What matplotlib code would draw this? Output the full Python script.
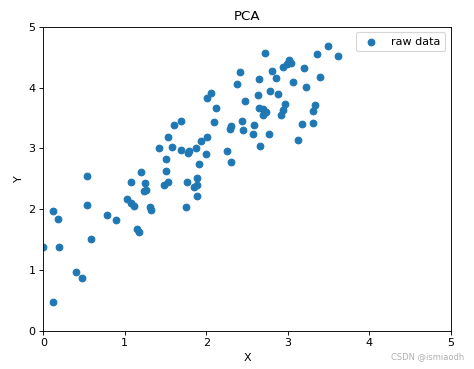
import numpy as np
import matplotlib
matplotlib.use("Agg")
import matplotlib.pyplot as plt

# punti
x_vals = [0.00, 0.12, 0.12, 0.18, 0.19, 0.40, 0.47, 0.54, 0.54, 0.59,
          0.78, 0.89, 1.03, 1.07, 1.11, 1.31, 1.32, 1.15, 1.18, 1.07,
          1.20, 1.25, 1.23, 1.26, 1.50, 1.48, 1.53, 1.76, 1.85, 1.88,
          1.89, 1.89, 1.75, 1.50, 1.91, 1.42, 1.58, 1.69, 1.77, 1.79,
          1.87, 1.94, 2.01, 2.00, 1.53, 1.60, 1.69, 2.09, 2.12, 2.01,
          2.06, 2.25, 2.30, 2.30, 2.29, 2.44, 2.45, 2.47, 2.38, 2.41,
          2.59, 2.57, 2.66, 2.77, 2.63, 2.65, 2.72, 2.65, 2.70, 2.73,
          2.70, 2.78, 2.81, 2.86, 2.88, 2.97, 2.94, 2.92, 2.94, 2.99,
          3.02, 3.04, 3.07, 3.13, 3.17, 3.20, 3.22, 3.31, 3.33, 3.31,
          3.36, 3.39, 3.49, 3.62]
y_vals = [1.38, 0.47, 1.97, 1.83, 1.37, 0.97, 0.87, 2.54, 2.07, 1.51,
          1.91, 1.82, 2.17, 2.10, 2.05, 2.03, 1.99, 1.67, 1.62, 2.44,
          2.61, 2.43, 2.29, 2.31, 2.63, 2.40, 2.45, 2.45, 2.37, 2.39,
          2.51, 2.21, 2.03, 2.82, 2.74, 3.00, 3.02, 2.97, 2.93, 2.96,
          3.00, 3.12, 3.19, 2.91, 3.18, 3.38, 3.45, 3.44, 3.66, 3.83,
          3.91, 2.96, 2.77, 3.36, 3.31, 3.45, 3.30, 3.78, 4.06, 4.26,
          3.39, 3.24, 3.03, 3.24, 3.87, 4.14, 4.57, 3.66, 3.64, 3.59,
          3.54, 3.95, 4.27, 4.15, 3.89, 3.73, 3.63, 3.54, 4.33, 4.39,
          4.45, 4.40, 4.09, 3.13, 3.40, 4.32, 4.01, 3.42, 3.71, 3.62,
          4.55, 4.18, 4.69, 4.52]

# figura di default rimpicciolita (come nello screenshot)
fig = plt.figure(figsize=(5.925, 4.6125), dpi=80)
ax = fig.add_axes([0.0914, 0.1038, 0.8595, 0.8238])

ax.scatter(x_vals, y_vals, label='raw data')
ax.set_xlim(0, 5)
ax.set_ylim(0, 5)
ax.set_xlabel('X')
ax.set_ylabel('Y')
ax.set_title('PCA')
ax.legend(loc='upper right')

fig.text(0.98, 0.02, 'CSDN @ismiaodh', ha='right', va='bottom',
         fontsize=7.5, color='#b0b0b0')

fig.savefig('out.png', dpi=80)
